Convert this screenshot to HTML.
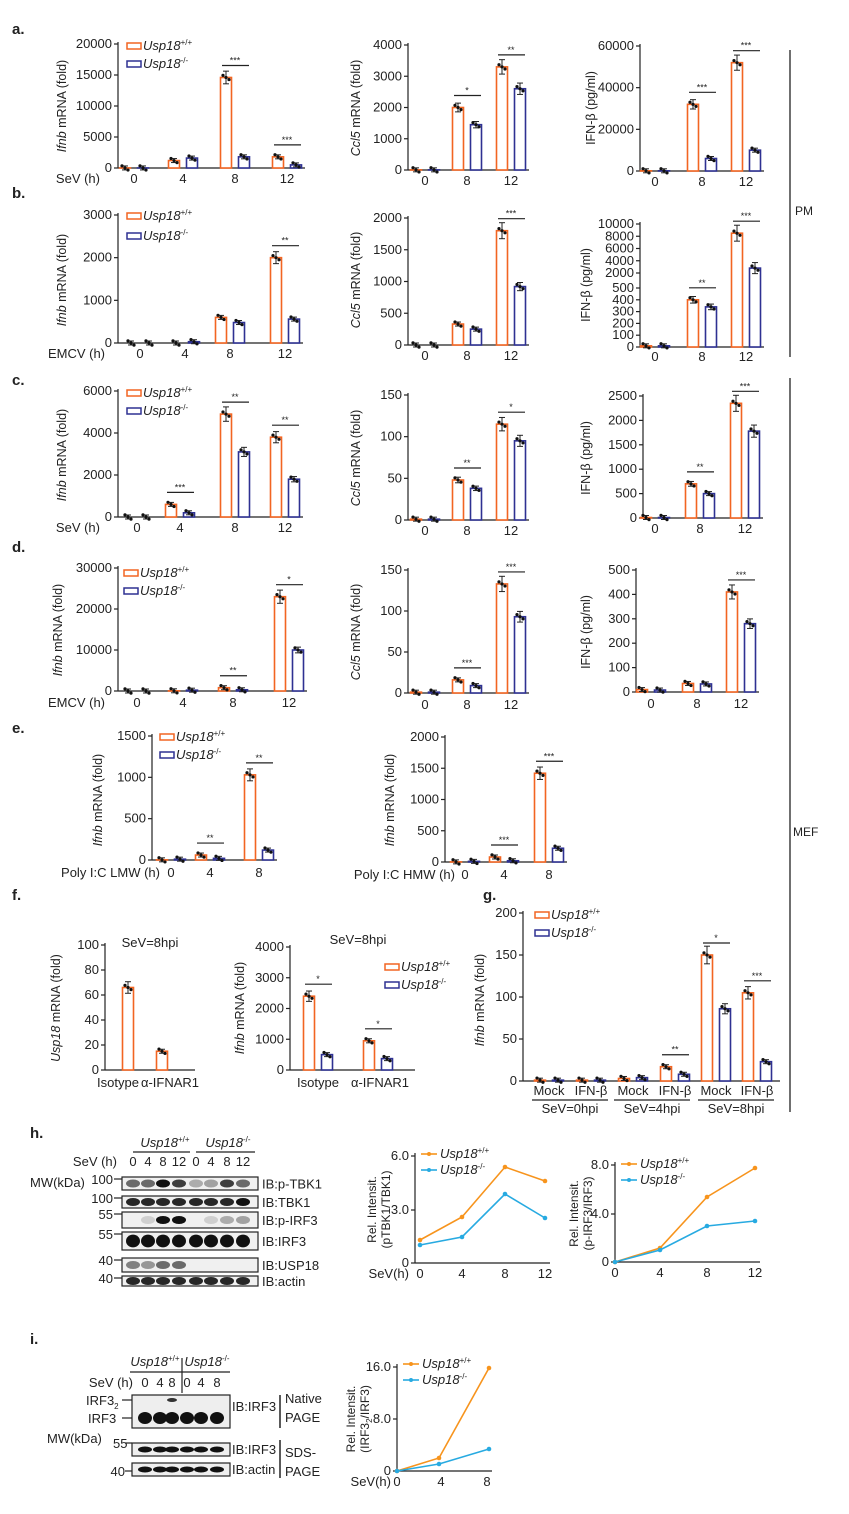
<!DOCTYPE html>
<html><head><meta charset="utf-8"><style>
body{margin:0;background:#fff}
svg{display:block;font-family:"Liberation Sans",Arial,sans-serif}
text{fill:#222}
</style></head><body>
<svg id="s" width="849" height="1514" viewBox="0 0 849 1514" xmlns="http://www.w3.org/2000/svg">
<g font-weight="bold" font-size="15">
<text x="12" y="34">a.</text><text x="12" y="198">b.</text><text x="12" y="385">c.</text><text x="12" y="552">d.</text><text x="12" y="733">e.</text><text x="12" y="900">f.</text><text x="483" y="900">g.</text><text x="30" y="1138">h.</text><text x="30" y="1344">i.</text>
</g>
<g stroke="#222" stroke-width="1.3"><line x1="790" y1="50" x2="790" y2="357"/><line x1="790" y1="378" x2="790" y2="1112"/></g>
<text x="795" y="215" font-size="12">PM</text><text x="793" y="836" font-size="12">MEF</text>
<g id="g"></g>
</svg>
<script>
const O='#f26522',B='#2e3192';
let h='';
function T(x,y,t,a,s,ex){h+=`<text x="${x}" y="${y}" font-size="${s||13}" text-anchor="${a||'middle'}" ${ex||''}>${t}</text>`;}
function L(x1,y1,x2,y2,c,w){h+=`<line x1="${x1}" y1="${y1}" x2="${x2}" y2="${y2}" stroke="${c||'#222'}" stroke-width="${w||1.2}"/>`;}
const WT='<tspan font-style="italic">Usp18</tspan><tspan font-size="8" dy="-5">+/+</tspan>';
const KO='<tspan font-style="italic">Usp18</tspan><tspan font-size="8" dy="-5">-/-</tspan>';
function leg(x,y1,y2){h+=`<rect x="${x}" y="${y1-7}" width="14" height="6" fill="none" stroke="${O}" stroke-width="1.5"/><rect x="${x}" y="${y2-7}" width="14" height="6" fill="none" stroke="${B}" stroke-width="1.5"/>`;T(x+16,y1,WT,'start',13);T(x+16,y2,KO,'start',13);}
function ytitle(x,y,t){h+=`<text transform="translate(${x},${y}) rotate(-90)" font-size="12.5" text-anchor="middle">${t}</text>`;}
function chart(o){
 const map=o.map||(v=>o.y0-v/o.max*(o.y0-o.y1));
 const xe=o.xe||(o.labels[o.labels.length-1][0]+18);
 L(o.ax,o.y1-2,o.ax,o.y0);L(o.ax,o.y0,xe,o.y0);
 for(const t of o.ticks){const y=map(t);L(o.ax-4,y,o.ax,y);T(o.ax-6,y+4,t,'end');}
 for(const [x,t] of o.labels)T(x,o.ly||o.y0+15,t);
 for(const g of o.groups){const [x,vals,sig]=g;let top=o.y0;
  vals.forEach((v,i)=>{const c=vals.length==1?(g[3]||O):(i?B:O);const bx=vals.length==1?x:x+(i?9:-9);const y=map(v);top=Math.min(top,y);
   h+=`<rect x="${bx-5.5}" y="${y}" width="11" height="${o.y0-y}" fill="#fff" stroke="${c}" stroke-width="1.6"/>`;
   const e=Math.max(2,(o.y0-y)*0.07);L(bx,y-e,bx,y+e,'#222',1);L(bx-3,y-e,bx+3,y-e,'#222',1);L(bx-3,y+e,bx+3,y+e,'#222',1);
   for(const d of [-3,0,3])h+=`<circle cx="${bx+d}" cy="${y+d*0.7}" r="1.6" fill="#111"/>`;});
  if(sig){const sy=top-12;L(x-13,sy,x+14,sy);T(x,sy-2,sig,'middle',9);}}
 if(o.yt)ytitle(o.tx,o.ty,o.yt);
 if(o.xt)T(o.xt[0],o.ly||o.y0+15,o.xt[1],'end');
}
const IF='<tspan font-style="italic">Ifnb</tspan>  mRNA (fold)',CC='<tspan font-style="italic">Ccl5</tspan> mRNA (fold)',IB='IFN-β (pg/ml)';
chart({ax:118,y0:168,y1:44,max:20000,ticks:[0,5000,10000,15000,20000],labels:[[134,0],[183,4],[235,8],[287,12]],groups:[[134,[10,10]],[183,[1200,1600]],[235,[14600,1800],'***'],[287,[1800,500],'***']],yt:IF,tx:66,ty:106,xt:[100,'SeV (h)'],xe:305});
leg(127,50,68);
chart({ax:408,y0:170,y1:45,max:4000,ticks:[0,1000,2000,3000,4000],labels:[[425,0],[467,8],[511,12]],groups:[[425,[5,5]],[467,[2000,1450],'*'],[511,[3300,2600],'**']],yt:CC,tx:360,ty:108});
chart({ax:640,y0:171,y1:46,max:60000,ticks:[0,20000,40000,60000],labels:[[655,0],[702,8],[746,12]],groups:[[655,[100,100]],[702,[32000,6000],'***'],[746,[52000,10000],'***']],yt:IB,tx:595,ty:108});
chart({ax:118,y0:343,y1:215,max:3000,ticks:[0,1000,2000,3000],labels:[[140,0],[185,4],[230,8],[285,12]],groups:[[140,[0,0]],[185,[0,30]],[230,[600,480]],[285,[2000,560],'**']],yt:IF,tx:66,ty:280,xt:[105,'EMCV (h)'],ly:358});
leg(127,220,240);
chart({ax:408,y0:345,y1:218,max:2000,ticks:[0,500,1000,1500,2000],labels:[[425,0],[467,8],[511,12]],groups:[[425,[0,0]],[467,[330,250]],[511,[1800,920],'***']],yt:CC,tx:360,ty:280,ly:360});
chart({ax:640,y0:347,y1:224,max:10000,map:v=>v<=500?347-v/500*59:273-(v-2000)/8000*49,ticks:[0,100,200,300,400,500,2000,4000,6000,8000,10000],labels:[[655,0],[702,8],[746,12]],groups:[[655,[10,10]],[702,[400,340],'**'],[746,[8500,2800],'***']],yt:IB,tx:590,ty:285,ly:361});
chart({ax:118,y0:517,y1:391,max:6000,ticks:[0,2000,4000,6000],labels:[[137,0],[180,4],[235,8],[285,12]],groups:[[137,[0,0]],[180,[600,200],'***'],[235,[4900,3100],'**'],[285,[3800,1800],'**']],yt:IF,tx:66,ty:455,xt:[100,'SeV (h)'],ly:532});
leg(127,397,415);
chart({ax:408,y0:520,y1:395,max:150,ticks:[0,50,100,150],labels:[[425,0],[467,8],[511,12]],groups:[[425,[1,1]],[467,[48,38],'**'],[511,[115,95],'*']],yt:CC,tx:360,ty:458,ly:535});
chart({ax:643,y0:518,y1:396,max:2500,ticks:[0,500,1000,1500,2000,2500],labels:[[655,0],[700,8],[745,12]],groups:[[655,[10,10]],[700,[700,500],'**'],[745,[2350,1780],'***']],yt:IB,tx:590,ty:458,ly:533});
chart({ax:118,y0:691,y1:568,max:30000,ticks:[0,10000,20000,30000],labels:[[137,0],[183,4],[233,8],[289,12]],groups:[[137,[0,0]],[183,[50,200]],[233,[800,300],'**'],[289,[23000,10000],'*']],yt:IF,tx:62,ty:630,xt:[105,'EMCV (h)'],ly:707});
leg(124,577,595);
chart({ax:408,y0:693,y1:570,max:150,ticks:[0,50,100,150],labels:[[425,0],[467,8],[511,12]],groups:[[425,[1,1]],[467,[16,9],'***'],[511,[133,93],'***']],yt:CC,tx:360,ty:632,ly:709});
chart({ax:636,y0:692,y1:570,max:500,ticks:[0,100,200,300,400,500],labels:[[651,0],[697,8],[741,12]],groups:[[651,[10,8]],[697,[35,33]],[741,[410,280],'***']],yt:IB,tx:590,ty:632,ly:708});
chart({ax:152,y0:860,y1:736,max:1500,ticks:[0,500,1000,1500],labels:[[171,0],[210,4],[259,8]],groups:[[171,[2,10]],[210,[60,20],'**'],[259,[1030,120],'**']],yt:IF,tx:102,ty:800,xt:[160,'Poly I:C LMW (h)'],ly:877});
leg(160,741,759);
chart({ax:445,y0:862,y1:737,max:2000,ticks:[0,500,1000,1500,2000],labels:[[465,0],[504,4],[549,8]],groups:[[465,[2,10]],[504,[80,20],'***'],[549,[1420,220],'***']],yt:IF,tx:394,ty:800,xt:[455,'Poly I:C HMW (h)'],ly:879});
chart({ax:105,y0:1070,y1:945,max:100,ticks:[0,20,40,60,80,100],labels:[[118,'Isotype'],[170,'α-IFNAR1']],groups:[[128,[66]],[162,[15]]],yt:'<tspan font-style="italic">Usp18</tspan> mRNA (fold)',tx:60,ty:1008,xe:195,ly:1087});
T(150,947,'SeV=8hpi');
chart({ax:290,y0:1070,y1:947,max:4000,ticks:[0,1000,2000,3000,4000],labels:[[318,'Isotype'],[380,'α-IFNAR1']],groups:[[318,[2400,500],'*'],[378,[950,370],'*']],yt:IF,tx:244,ty:1008,xe:415,ly:1087});
T(358,944,'SeV=8hpi');leg(385,971,989);
chart({ax:523,y0:1081,y1:913,max:200,ticks:[0,50,100,150,200],labels:[[549,'Mock'],[591,'IFN-β'],[633,'Mock'],[675,'IFN-β'],[716,'Mock'],[757,'IFN-β']],groups:[[549,[1,1]],[591,[1,1]],[633,[3,4]],[675,[17,8],'**'],[716,[150,86],'*'],[757,[105,23],'***']],yt:IF,tx:484,ty:1000,xe:780,ly:1095});
leg(535,919,937);
for(const [x,t] of [[570,'SeV=0hpi'],[652,'SeV=4hpi'],[736,'SeV=8hpi']]){L(x-38,1100,x+38,1100);T(x,1113,t);}
T(165,1147,WT,'middle',13);T(228,1147,KO,'middle',13);L(133,1152,190,1152);L(196,1152,255,1152);
T(117,1166,'SeV (h)','end',13);const hl=[133,148,163,179,196,211,227,243];hl.forEach((x,i)=>T(x,1166,[0,4,8,12][i%4],'middle',13));
const rows=[[1177,1190,'IB:p-TBK1','100',[.6,.6,1,.8,.3,.35,.8,.6]],[1196,1208,'IB:TBK1','100',[.9,.9,.9,.9,.9,.9,.9,1]],[1212,1228,'IB:p-IRF3','55',[0,.15,1,1,0,.15,.3,.35]],[1232,1250,'IB:IRF3','55',[1,1,1,1,1,1,1,1]],[1258,1272,'IB:USP18','40',[.5,.4,.6,.6,0,0,0,0]],[1276,1286,'IB:actin','40',[.9,.9,.9,.9,.9,.9,.9,.9]]];
T(30,1187,'MW(kDa)','start',13);
for(const [y1,y2,lab,mw,ints] of rows){h+=`<rect x="122" y="${y1}" width="136" height="${y2-y1}" fill="#f0f0f0" stroke="#222" stroke-width="1.2"/>`;
 const cy=(y1+y2)/2;ints.forEach((v,i)=>{if(v>0)h+=`<ellipse cx="${hl[i]}" cy="${cy}" rx="7" ry="${Math.min(4,(y2-y1)/2-1)*(lab=='IB:IRF3'?1.6:1)}" fill="#111" opacity="${v}"/>`;});
 L(114,y1+2,122,y1+2);T(113,y1+7,mw,'end',13);T(262,cy+5,lab,'start',13);}
function lc(o){L(o.ax,o.y1-3,o.ax,o.y0);L(o.ax,o.y0,o.xe,o.y0);
 for(const [v,y] of o.ticks){L(o.ax-4,y,o.ax,y);T(o.ax-6,y+4,v,'end',13);}
 for(const [x,t] of o.xl)T(x,o.y0+15,t,'middle',13);
 for(const [pts,c] of [[o.o,'#f7941d'],[o.b,'#27aae1']]){h+=`<polyline points="${pts.map(p=>p.join(',')).join(' ')}" fill="none" stroke="${c}" stroke-width="1.6"/>`;pts.forEach(p=>h+=`<circle cx="${p[0]}" cy="${p[1]}" r="2.3" fill="${c}"/>`);}
 const lx=o.ax+6;L(lx,o.l1-4,lx+16,o.l1-4,'#f7941d',1.6);h+=`<circle cx="${lx+8}" cy="${o.l1-4}" r="2" fill="#f7941d"/>`;L(lx,o.l1+12,lx+16,o.l1+12,'#27aae1',1.6);h+=`<circle cx="${lx+8}" cy="${o.l1+12}" r="2" fill="#27aae1"/>`;
 T(lx+19,o.l1,WT,'start',13);T(lx+19,o.l1+16,KO,'start',13);
 h+=`<text transform="translate(${o.tx},${(o.y0+o.y1)/2}) rotate(-90)" font-size="12" text-anchor="middle"><tspan x="0" dy="0">Rel. Intensit.</tspan><tspan x="0" dy="14">${o.t2}</tspan></text>`;
 if(o.sev)T(o.ax-6,o.y0+15,'SeV(h)','end',13);}
lc({ax:415,y0:1263,y1:1156,xe:550,ticks:[['0',1263],['3.0',1210],['6.0',1156]],xl:[[420,0],[462,4],[505,8],[545,12]],o:[[420,1240],[462,1217],[505,1167],[545,1181]],b:[[420,1245],[462,1237],[505,1194],[545,1218]],l1:1158,tx:376,t2:'(pTBK1/TBK1)',sev:1});
lc({ax:615,y0:1262,y1:1165,xe:760,ticks:[['0',1262],['4.0',1214],['8.0',1165]],xl:[[615,0],[660,4],[707,8],[755,12]],o:[[615,1262],[660,1248],[707,1197],[755,1168]],b:[[615,1262],[660,1250],[707,1226],[755,1221]],l1:1168,tx:578,t2:'(p-IRF3/IRF3)'});
lc({ax:397,y0:1471,y1:1367,xe:492,ticks:[['0',1471],['8.0',1419],['16.0',1367]],xl:[[397,0],[441,4],[487,8]],o:[[397,1471],[439,1458],[489,1368]],b:[[397,1471],[439,1464],[489,1449]],l1:1368,tx:355,t2:'(IRF3<tspan font-size="8" dy="3">2</tspan><tspan dy="-3">/IRF3)</tspan>',sev:1});
T(155,1366,WT,'middle',13);T(207,1366,KO,'middle',13);L(130,1372,230,1372);L(182,1358,182,1393);
T(133,1387,'SeV (h)','end',13);const il=[145,160,172,187,201,217];il.forEach((x,i)=>T(x,1387,[0,4,8][i%3],'middle',13));
h+=`<rect x="132" y="1395" width="98" height="33" fill="#eee" stroke="#222" stroke-width="1.2"/>`;
il.forEach((x,i)=>{h+=`<ellipse cx="${x}" cy="1418" rx="7" ry="6" fill="#111"/>`;if(i==2)h+=`<ellipse cx="${x}" cy="1400" rx="5" ry="2" fill="#333"/>`;});
T(86,1405,'IRF3<tspan font-size="8" dy="4">2</tspan>','start',13);L(122,1400,132,1400);T(88,1423,'IRF3','start',13);L(122,1418,132,1418);
T(232,1411,'IB:IRF3','start',13);L(280,1395,280,1428,'#222',1.5);T(285,1403,'Native','start',13);T(285,1422,'PAGE','start',13);
T(47,1443,'MW(kDa)','start',13);T(113,1448,'55','start',13);L(125,1443,132,1443);T(125,1476,'40','end',13);L(125,1471,132,1471);
for(const [y1,y2,lab] of [[1443,1456,'IB:IRF3'],[1463,1476,'IB:actin']]){h+=`<rect x="132" y="${y1}" width="98" height="${y2-y1}" fill="#eee" stroke="#222" stroke-width="1.2"/>`;il.forEach(x=>h+=`<ellipse cx="${x}" cy="${(y1+y2)/2}" rx="7" ry="3" fill="#111"/>`);T(232,y2-2,lab,'start',13);}
L(280,1440,280,1478,'#222',1.5);T(285,1457,'SDS-','start',13);T(285,1476,'PAGE','start',13);
document.getElementById('g').innerHTML=h;
</script>
</body></html>
